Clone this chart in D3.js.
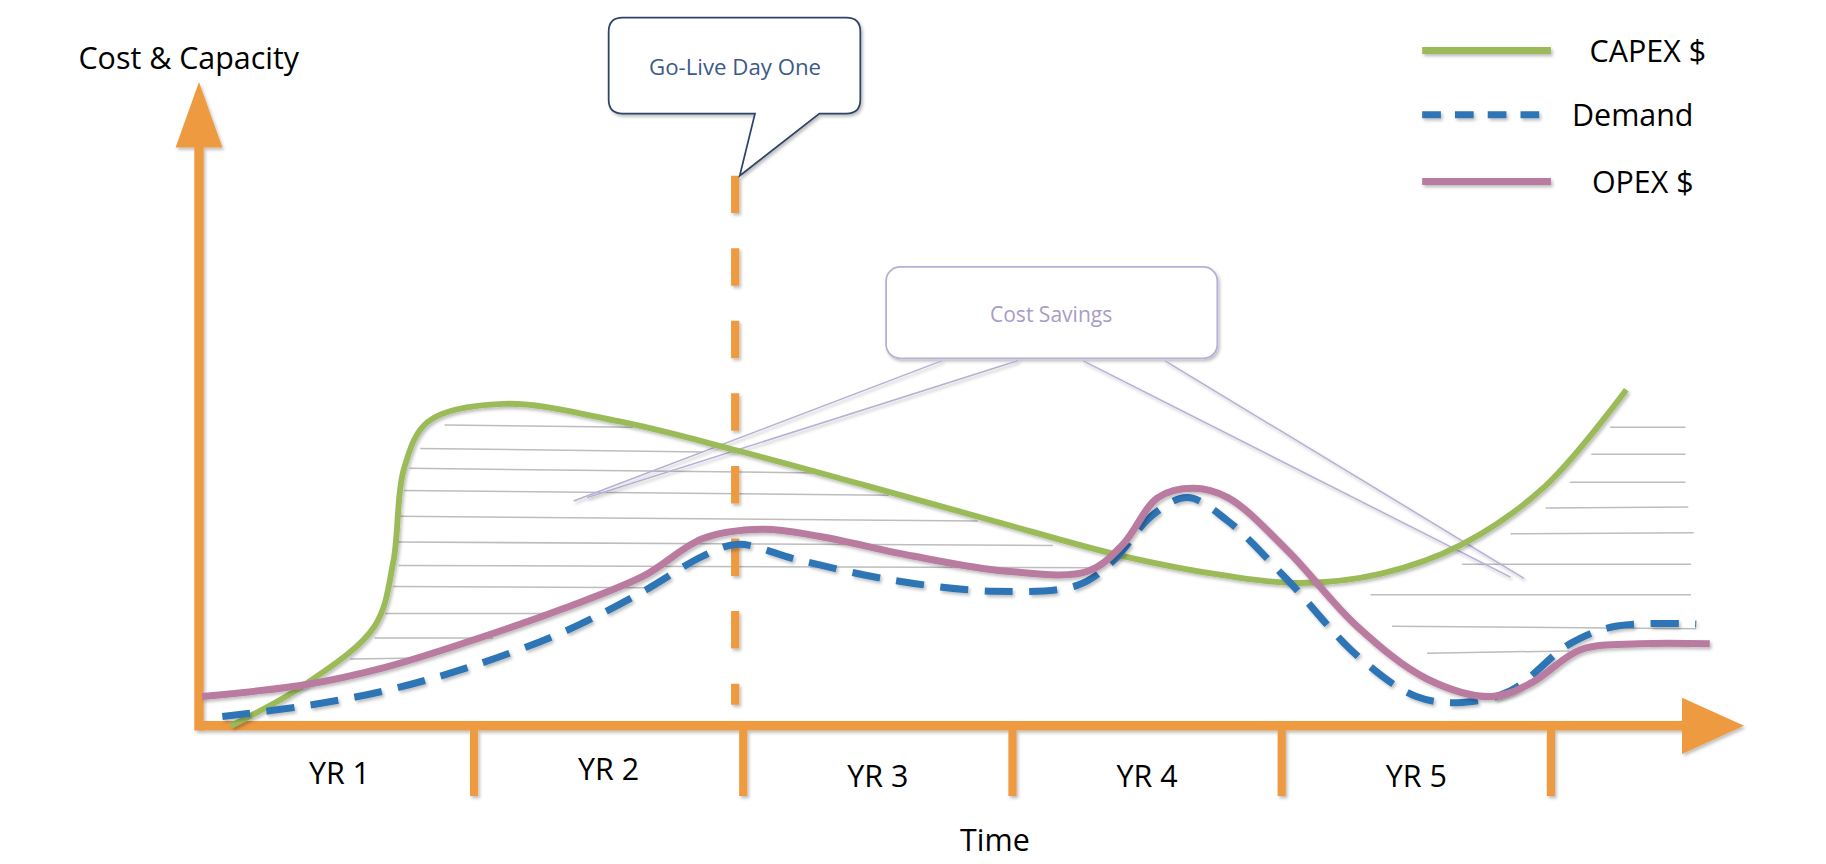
<!DOCTYPE html>
<html><head><meta charset="utf-8">
<script src="https://cdn.jsdelivr.net/npm/d3@7"></script>
<style>html,body{margin:0;padding:0;background:#fff;overflow:hidden}</style>
</head><body>
<svg id="c" width="1826" height="864" viewBox="0 0 1560 738"></svg>
<script>
const yearLabels = ["YR 1","YR 2","YR 3","YR 4","YR 5"];
const yearTicks = [1,2,3,4,5];
const capex = [[0.096,0],[0.37,7],[0.63,17],[0.70,28],[0.74,44],[0.83,52],[1.11,55],[1.54,52],[1.98,47],[2.46,41],[2.93,35],[3.41,29],[3.80,25.6],[4.07,24.4],[4.37,26],[4.67,31],[4.98,41],[5.28,57.4]];
const demand = [[0.065,1.6],[0.37,3.4],[0.67,6],[0.98,10],[1.33,16],[1.63,23],[1.85,29],[1.98,31],[2.2,28.4],[2.54,25],[2.93,23],[3.24,24],[3.37,28],[3.52,36],[3.65,39],[3.80,35],[4.02,25],[4.28,12],[4.5,5],[4.67,4],[4.85,6],[5.07,14],[5.24,17],[5.54,17.4]];
const opex = [[-0.01,5],[0.37,7],[0.67,10],[0.98,14.4],[1.33,20],[1.63,25.6],[1.85,32],[2.07,33.6],[2.28,32.4],[2.63,29],[2.98,26.4],[3.28,26.4],[3.41,31],[3.54,39],[3.67,40.6],[3.80,39],[4.02,30],[4.28,17],[4.54,8],[4.78,5],[4.93,7.4],[5.11,13],[5.33,14],[5.59,14]];
// hatch lines: [t1, t2, v1, v2]
const hatch = [[0.89,1.59,51.4,51.0],[0.80,1.85,47.4,46.8],[0.76,2.28,44,43.2],[0.74,2.54,40.2,39.4],[0.72,2.87,35.8,35.0],[0.72,3.15,31.4,30.8],[0.72,3.33,27.4,27.0],[0.70,1.67,23.8,23.6],[0.67,1.28,19.2,19.2],[0.63,1.07,15,15],[0.54,0.80,11.4,11.6],
 [5.22,5.5,51,51],[5.15,5.5,46.4,46.4],[5.07,5.5,41.6,41.6],[4.98,5.51,37.2,37.4],[4.85,5.53,32.8,33.0],[4.67,5.52,27.6,27.6],[4.33,5.52,22.4,22.4],[4.41,5.54,17,16.6],[4.54,5.07,12.4,12.8]];
const goLive = 1.97;

const svg = d3.select("#c");
const x = d3.scaleLinear().domain([0,5]).range([175,1325]);
const y = d3.scaleLinear().domain([0,100]).range([620,120]);
const orange="#ED9A40", green="#9BBB59", blue="#2E75B6", purple="#B97BA0";
const font="'Open Sans', 'Liberation Sans', sans-serif";

const defs = svg.append("defs");
const f = defs.append("filter").attr("id","sh").attr("filterUnits","userSpaceOnUse")
  .attr("x",0).attr("y",0).attr("width",1560).attr("height",738);
f.append("feDropShadow").attr("dx",1.5).attr("dy",2).attr("stdDeviation",1.5).attr("flood-color","#000").attr("flood-opacity",0.25);

// hatching
svg.append("g").selectAll("line").data(hatch).join("line")
  .attr("x1",d=>x(d[0])).attr("x2",d=>x(d[1])).attr("y1",d=>y(d[2])).attr("y2",d=>y(d[3]))
  .attr("stroke","#bdbdbd").attr("stroke-width",1.3);

// cost savings callout
const cs = svg.append("g").attr("filter","url(#sh)");
cs.append("rect").attr("x",757).attr("y",228).attr("width",283).attr("height",78).attr("rx",12)
  .attr("fill","#fff").attr("stroke","#b8aed6").attr("stroke-width",1.5);
[[805,308,x(1.37),y(38.4)],[870,308,x(1.42),y(39)],[925,308,x(4.85),y(25.4)],[995,308,x(4.9),y(25.2)]].forEach(l=>
  cs.append("line").attr("x1",l[0]).attr("y1",l[1]).attr("x2",l[2]).attr("y2",l[3]).attr("stroke","#b8aed6").attr("stroke-width",1.3));
svg.append("text").attr("x",898).attr("y",275).attr("text-anchor","middle").attr("font-family",font)
  .attr("font-size",18).attr("fill","#a99cc6").text("Cost Savings");

// go-live dashed line
svg.append("line").attr("x1",x(goLive)).attr("x2",x(goLive)).attr("y1",150).attr("y2",y(0)-18)
  .attr("stroke",orange).attr("stroke-width",7).attr("stroke-dasharray","32,30").attr("filter","url(#sh)");

// go-live callout
svg.append("path").attr("d","M532,15 H723 Q735,15 735,27 V85 Q735,97 723,97 H700 L632,150 L645,97 H532 Q520,97 520,85 V27 Q520,15 532,15 Z")
  .attr("fill","#fff").attr("stroke","#2F4468").attr("stroke-width",1.5).attr("filter","url(#sh)");
svg.append("text").attr("x",628).attr("y",64).attr("text-anchor","middle").attr("font-family",font)
  .attr("font-size",19).attr("fill","#3B5A8A").text("Go-Live Day One");

// axes
const ax = svg.append("g").attr("filter","url(#sh)");
ax.append("line").attr("x1",x(0)-5).attr("x2",1445).attr("y1",y(0)).attr("y2",y(0)).attr("stroke",orange).attr("stroke-width",8);
ax.append("path").attr("d",`M1437,${y(0)-24} L1490,${y(0)} L1437,${y(0)+24} Z`).attr("fill",orange);
ax.append("line").attr("x1",170).attr("x2",170).attr("y1",y(0)+4).attr("y2",120).attr("stroke",orange).attr("stroke-width",8);
ax.append("path").attr("d","M150,126 L170,70 L190,126 Z").attr("fill",orange);
ax.selectAll(".tk").data(yearTicks).join("line").attr("class","tk")
  .attr("x1",d=>x(d)).attr("x2",d=>x(d)).attr("y1",y(0)).attr("y2",680).attr("stroke",orange).attr("stroke-width",7);

svg.selectAll(".yl").data(yearLabels).join("text").attr("class","yl")
  .attr("x",(d,i)=>x(i+0.5)).attr("y",(d,i)=>[670,666,672,672,672][i]).attr("text-anchor","middle")
  .attr("font-family",font).attr("font-size",26).attr("fill","#000").text(d=>d);
svg.append("text").attr("x",850).attr("y",727).attr("text-anchor","middle").attr("font-family",font).attr("font-size",26).text("Time");
svg.append("text").attr("x",67).attr("y",59).attr("font-family",font).attr("font-size",26).text("Cost & Capacity");

// series
const line = d3.line().x(d=>x(d[0])).y(d=>y(d[1])).curve(d3.curveCatmullRom.alpha(0.5));
svg.append("path").attr("d",line(capex)).attr("fill","none").attr("stroke",green).attr("stroke-width",5).attr("filter","url(#sh)");
svg.append("path").attr("d",line(demand)).attr("fill","none").attr("stroke",blue).attr("stroke-width",6).attr("stroke-dasharray","24,14").attr("filter","url(#sh)");
svg.append("path").attr("d",line(opex)).attr("fill","none").attr("stroke",purple).attr("stroke-width",6).attr("filter","url(#sh)");

// legend
const leg = [["CAPEX $",green,"none",43,1358],["Demand",blue,"16,12",98,1343],["OPEX $",purple,"none",155,1360]];
leg.forEach(l=>{
  svg.append("line").attr("x1",1215).attr("x2",1325).attr("y1",l[3]).attr("y2",l[3]).attr("stroke",l[1]).attr("stroke-width",6)
    .attr("stroke-dasharray",l[2]).attr("filter","url(#sh)");
  svg.append("text").attr("x",l[4]).attr("y",l[3]+10).attr("font-family",font).attr("font-size",26).text(l[0]);
});
</script>
</body></html>
